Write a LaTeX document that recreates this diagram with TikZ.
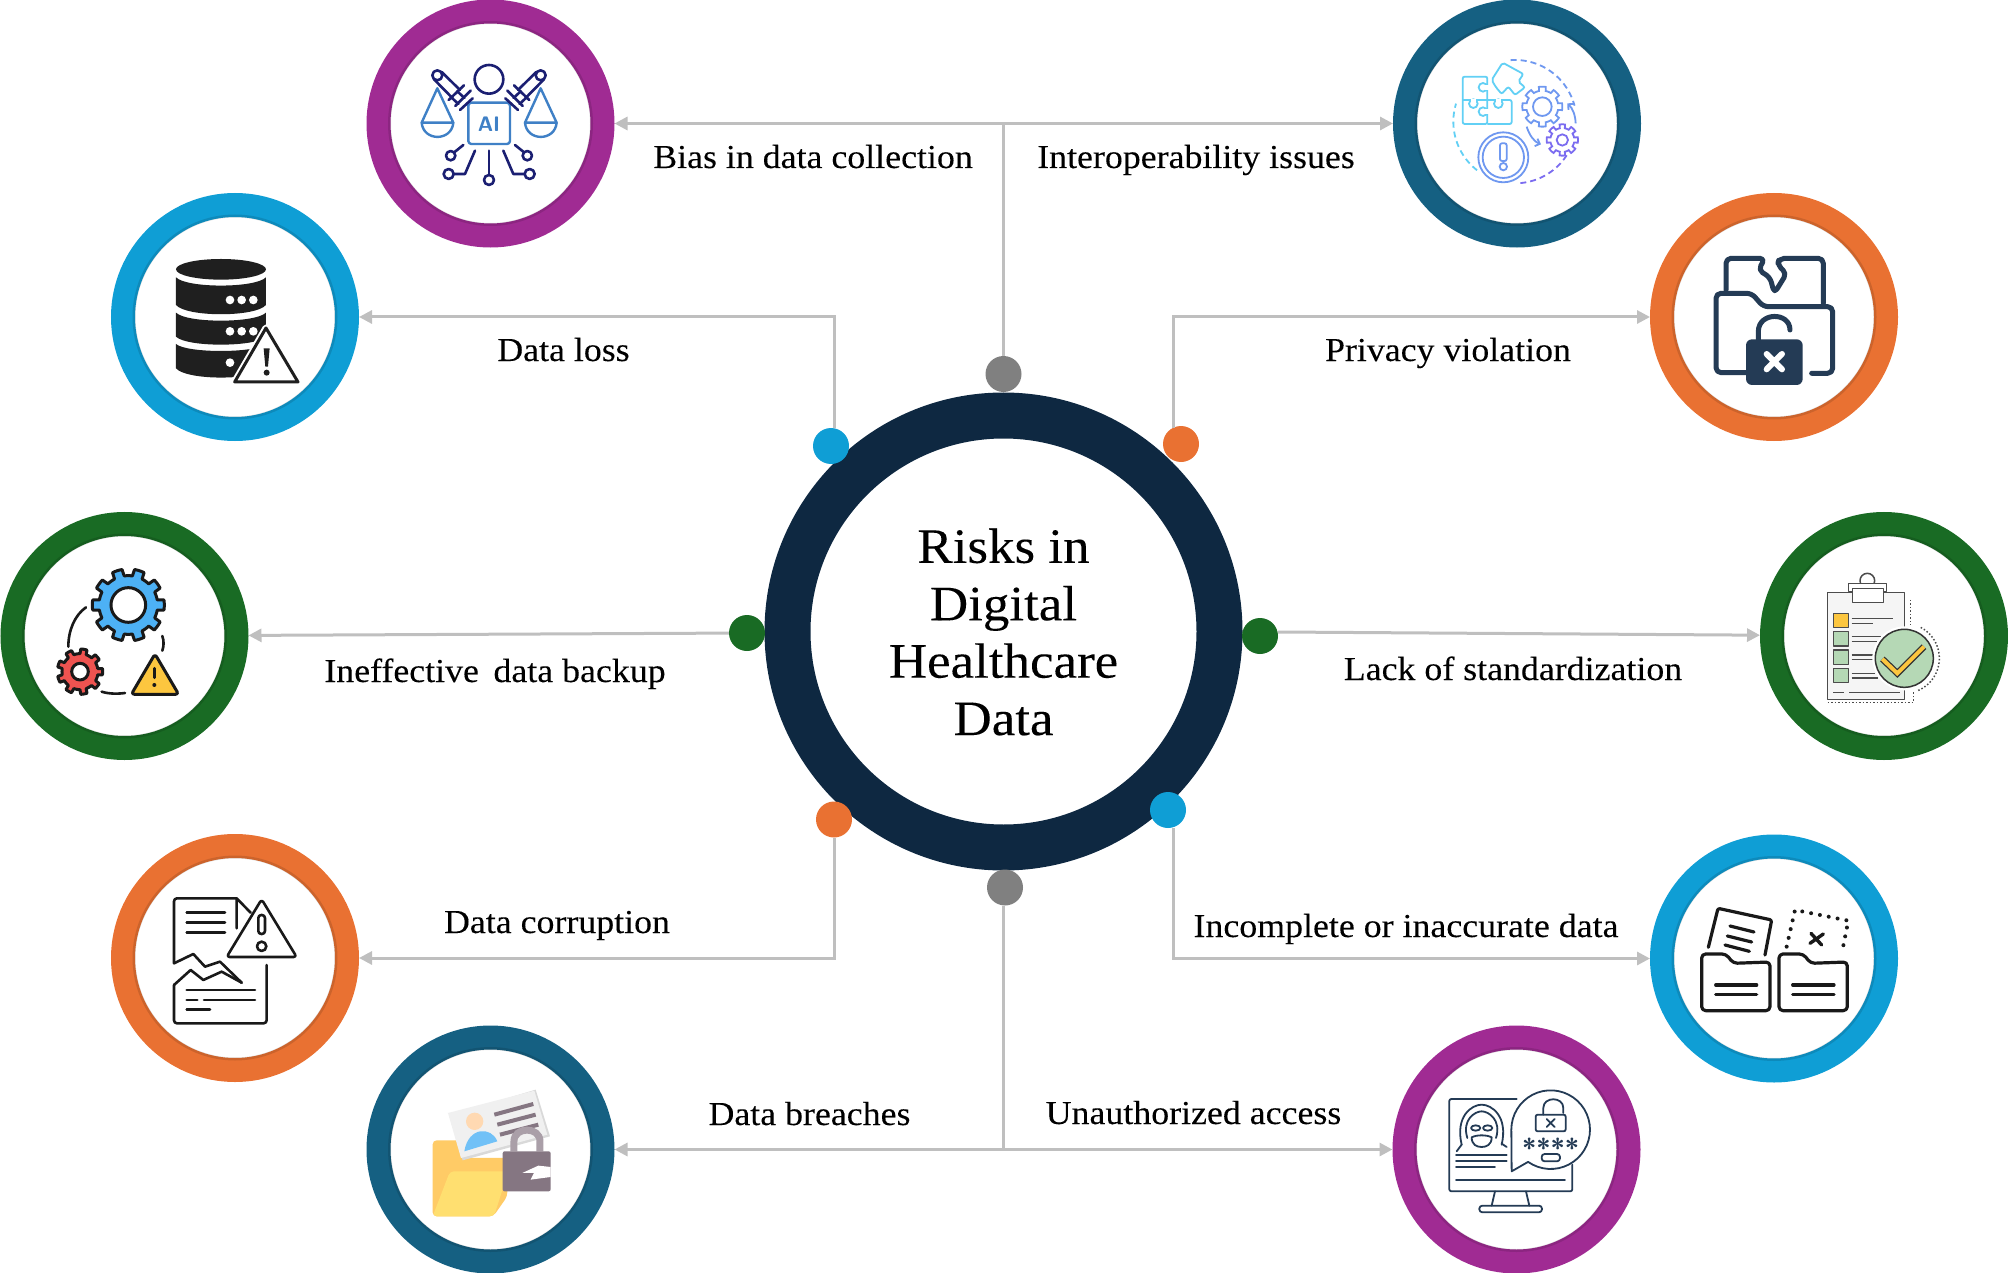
\documentclass[tikz,border=0pt]{standalone}
\usepackage{fontspec}
\setmainfont[FakeStretch=1.07, FakeBold=0.12]{Liberation Serif}
\usetikzlibrary{arrows.meta}

\definecolor{hubnavy}{HTML}{0E2841}
\definecolor{ringpurple}{HTML}{A02B93}
\definecolor{ringteal}{HTML}{156082}
\definecolor{ringblue}{HTML}{0F9ED5}
\definecolor{ringorange}{HTML}{E97132}
\definecolor{ringgreen}{HTML}{196B24}
\definecolor{conngray}{HTML}{BFBFBF}
\definecolor{icnnavy}{HTML}{1B1F72}
\definecolor{icnblue}{HTML}{3F80C6}
\definecolor{icnslate}{HTML}{243B55}
\definecolor{icncyan}{HTML}{62D0F5}
\definecolor{icnperi}{HTML}{6F98F0}
\definecolor{icnviolet}{HTML}{7B6CF0}
\definecolor{icnyellow}{HTML}{FCC63F}
\definecolor{icnmint}{HTML}{B5D8B5}
\definecolor{icnmauve}{HTML}{857682}
\definecolor{icnsky}{HTML}{4DB1F5}
\definecolor{icnred}{HTML}{EF5350}
\definecolor{folderback}{HTML}{FFCB66}
\definecolor{folderfront}{HTML}{FFDF70}

\tikzset{
    ring/.style={circle, minimum size=224pt, line width=24pt, fill=white, inner sep=0pt},
    hubdot/.style={circle, minimum size=36pt, inner sep=0pt},
    conn/.style={draw=conngray, line width=3pt, -{Triangle[length=13pt, width=13pt]}},
    risklabel/.style={anchor=base, font=\fontsize{33.5}{38}\selectfont},
    iconzoom/.style={x=0.3333pt, y=-0.3333pt},
    navyline/.style={draw=icnnavy, line width=2.6pt, line cap=round, line join=round},
    blueline/.style={draw=icnblue, line width=2.4pt, line cap=round, line join=round},
    slateline/.style={draw=icnslate, line width=5pt, line cap=round, line join=round},
    inkline/.style={draw=black!90, line width=2.6pt, line cap=round, line join=round},
    thinline/.style={draw=black!70, line width=1.5pt, line join=round}
}

% ring with its soft shadow on the inner edge
\newcommand{\ringnode}[4]{
    \node[ring, draw=#4] (#1) at (#2, #3) {};
    \draw[black, opacity=0.12, line width=3pt] (#1.center) circle (101);
}
% outline of a gear: base radius, tip radius, number of teeth
\newcommand{\gearplot}[3]{plot[domain=0:360, samples=181] (\x:{#1+(#2-#1)*(cos(#3*\x)>0)})}
% piece of a circle: start angle, end angle, radius
\newcommand{\arcplot}[3]{plot[domain=#1:#2, samples=40] (\x:#3)}

\begin{document}
\begin{tikzpicture}[x=1pt, y=-1pt]
    \useasboundingbox (0, 0) rectangle (2008, 1273);

    % Rings round the hub
    \ringnode{ringBias}{490.5}{123.5}{ringpurple}
    \ringnode{ringInterop}{1517}{123.5}{ringteal}
    \ringnode{ringLoss}{235}{317}{ringblue}
    \ringnode{ringPrivacy}{1774}{317}{ringorange}
    \ringnode{ringBackup}{124.5}{636}{ringgreen}
    \ringnode{ringStandard}{1884}{636}{ringgreen}
    \ringnode{ringCorrupt}{235}{958}{ringorange}
    \ringnode{ringIncomplete}{1774}{958.5}{ringblue}
    \ringnode{ringBreach}{490.5}{1149.5}{ringteal}
    \ringnode{ringAccess}{1516.5}{1149.5}{ringpurple}

    % Hub
    \node[circle, minimum size=432pt, line width=46pt, draw=hubnavy, fill=white] (hub) at (1003.5, 631.5) {};
    \node[align=center, font=\fontsize{49.5}{57.4}\selectfont] (hubText) at (1003.5, 632) {Risks in\\Digital\\Healthcare\\Data};

    % Dots on the hub
    \node[hubdot, fill=black!50] (dotTop) at (1003.5, 374) {};
    \node[hubdot, fill=ringblue] (dotLoss) at (831, 446) {};
    \node[hubdot, fill=ringorange] (dotPrivacy) at (1181, 444) {};
    \node[hubdot, fill=ringgreen] (dotBackup) at (747, 633) {};
    \node[hubdot, fill=ringgreen] (dotStandard) at (1260, 636) {};
    \node[hubdot, fill=ringorange] (dotCorrupt) at (834, 819.5) {};
    \node[hubdot, fill=ringblue] (dotIncomplete) at (1168, 810) {};
    \node[hubdot, fill=black!50] (dotBottom) at (1005, 887.5) {};

    % Connectors
    \draw[conn] (dotTop.north) |- (ringBias);
    \draw[conn] (dotTop.north) |- (ringInterop);
    \draw[conn] ([xshift=3.7pt]dotLoss.north) |- (ringLoss);
    \draw[conn] ([xshift=-7.6pt, yshift=-2pt]dotPrivacy.north) |- (ringPrivacy);
    \draw[conn] (dotBackup) -- (ringBackup);
    \draw[conn] ([yshift=4pt]dotStandard.east) -- (ringStandard);
    \draw[conn] (dotCorrupt.south) |- (ringCorrupt);
    \draw[conn] ([xshift=5pt]dotIncomplete.south) |- (ringIncomplete);
    \draw[conn] ([xshift=-2pt]dotBottom.south) |- (ringBreach);
    \draw[conn] ([xshift=-2pt]dotBottom.south) |- (ringAccess);

    % Labels
    \node[risklabel] (txtBias) at (813, 168) {Bias in data collection};
    \node[risklabel] (txtInterop) at (1196, 168) {Interoperability issues};
    \node[risklabel] (txtLoss) at (563.5, 361) {Data loss};
    \node[risklabel] (txtPrivacy) at (1448, 361) {Privacy violation};
    \node[risklabel] (txtBackup) at (495, 682) {Ineffective\, data backup};
    \node[risklabel] (txtStandard) at (1513, 680) {Lack of standardization};
    \node[risklabel] (txtCorrupt) at (557, 933) {Data corruption};
    \node[risklabel] (txtIncomplete) at (1406, 937) {Incomplete or inaccurate data};
    \node[risklabel] (txtBreach) at (809.5, 1125) {Data breaches};
    \node[risklabel] (txtAccess) at (1193.5, 1124) {Unauthorized access};

    % Icon: scales, chip and syringes
    \begin{scope}[shift={(360, 0)}, iconzoom]
        \draw[navyline] (387, 238) circle (43);
        \draw[blueline, rounded corners=3pt] (325, 308) rectangle (450, 432);
        \node[font=\sffamily\bfseries\fontsize{21}{21}\selectfont, text=icnblue] (txtChip) at (387, 372) {AI};
        % pans
        \draw[blueline] (232, 265) -- (185, 368) -- (280, 368) -- cycle;
        \draw[blueline] (185, 368) .. controls (190, 425) and (275, 425) .. (280, 368);
        \draw[blueline] (542, 265) -- (495, 368) -- (590, 368) -- cycle;
        \draw[blueline] (495, 368) .. controls (500, 425) and (585, 425) .. (590, 368);
        % left syringe
        \draw[navyline, fill=white] (232, 226) circle (15);
        \draw[navyline] (222, 238) -- (278, 295) (245, 216) -- (300, 270);
        \draw[navyline] (266, 300) -- (312, 256) (286, 318) -- (332, 272);
        \draw[navyline] (274, 292) -- (295, 312) (292, 274) -- (313, 294);
        \draw[navyline] (300, 330) -- (338, 295);
        % right syringe
        \draw[navyline, fill=white] (542, 226) circle (15);
        \draw[navyline] (552, 238) -- (496, 295) (529, 216) -- (474, 270);
        \draw[navyline] (508, 300) -- (462, 256) (488, 318) -- (442, 272);
        \draw[navyline] (500, 292) -- (479, 312) (482, 274) -- (461, 294);
        \draw[navyline] (474, 330) -- (436, 295);
        % circuit
        \draw[navyline] (387, 452) -- (387, 525);
        \draw[navyline] (387, 540) circle (15);
        \draw[navyline] (345, 452) -- (315, 522) -- (281, 522);
        \draw[navyline] (266, 522) circle (15);
        \draw[navyline] (430, 452) -- (460, 522) -- (494, 522);
        \draw[navyline] (509, 522) circle (15);
        \draw[navyline] (310, 435) -- (284, 456);
        \draw[navyline] (272, 467) circle (14);
        \draw[navyline] (465, 435) -- (491, 456);
        \draw[navyline] (502, 467) circle (14);
    \end{scope}

    % Icon: puzzle, gears and warning
    \begin{scope}[shift={(1390, 0)}, iconzoom]
        \begin{scope}[shift={(375, 365)}, line width=1.8pt, dash pattern=on 6pt off 4pt]
            \draw[icnperi] \arcplot{266}{345}{185};
            \draw[icncyan] \arcplot{128}{197}{185};
            \draw[icnviolet] \arcplot{33}{85}{185};
        \end{scope}
        % puzzle
        \draw[icncyan, line width=1.8pt, rounded corners=2pt] (218, 230) rectangle (292, 372);
        \draw[icncyan, line width=1.8pt, rounded corners=2pt] (218, 300) -- (365, 300) -- (365, 372) -- (292, 372);
        \draw[icncyan, line width=1.8pt, fill=white] (279, 262) circle (13);
        \fill[white] (285, 254) rectangle (296, 270);
        \draw[icncyan, line width=1.8pt, fill=white] (279, 335) circle (13);
        \fill[white] (285, 327) rectangle (296, 343);
        \draw[icncyan, line width=1.8pt, fill=white] (250, 311) circle (13);
        \fill[white] (242, 296) rectangle (258, 305);
        \draw[icncyan, line width=1.8pt, fill=white] (325, 311) circle (13);
        \fill[white] (317, 296) rectangle (333, 305);
        \draw[icncyan, line width=1.8pt, fill=white, rounded corners=2pt] (338, 188) -- (400, 222) -- (385, 245) -- (405, 262) -- (375, 285) -- (355, 260) -- (335, 282) -- (318, 262) -- (305, 240) -- cycle;
        % gears
        \draw[icnperi, line width=1.8pt, shift={(457, 320)}] \gearplot{48}{60}{8} -- cycle;
        \draw[icnperi, line width=1.8pt] (457, 320) circle (28);
        \draw[icnviolet, line width=1.8pt, shift={(517, 420)}] \gearplot{36}{47}{8} -- cycle;
        \draw[icnviolet, line width=1.8pt] (517, 420) circle (17);
        \draw[icnperi, line width=1.8pt, -{Straight Barb[length=4pt]}] (410, 380) .. controls (418, 405) and (432, 425) .. (453, 433);
        \draw[icnperi, line width=1.8pt, -{Straight Barb[length=4pt]}] (557, 370) .. controls (556, 345) and (548, 325) .. (532, 310);
        % warning
        \draw[icnperi, line width=1.8pt] (340, 472) circle (75);
        \draw[icnperi, line width=1.8pt] (340, 472) circle (62);
        \draw[icnperi, line width=1.8pt, rounded corners=2pt] (330, 430) rectangle (350, 483);
        \draw[icnperi, line width=1.8pt] (340, 500) circle (11);
    \end{scope}

    % Icon: database with warning
    \begin{scope}[shift={(110, 190)}, iconzoom]
        \fill[black!88] (333, 238) ellipse (135 and 31);
        \fill[black!88] (198, 262) .. controls (230, 295) and (436, 295) .. (468, 262) -- (468, 345) .. controls (436, 382) and (230, 382) .. (198, 345) -- cycle;
        \fill[black!88] (198, 368) .. controls (230, 400) and (436, 400) .. (468, 368) -- (468, 440) .. controls (436, 472) and (230, 472) .. (198, 440) -- cycle;
        \fill[black!88] (198, 462) .. controls (230, 490) and (436, 490) .. (468, 462) -- (468, 535) .. controls (436, 572) and (230, 572) .. (198, 535) -- cycle;
        \fill[white] (360, 330) circle (13) (395, 330) circle (13) (430, 330) circle (13);
        \fill[white] (360, 424) circle (13) (395, 424) circle (13) (430, 424) circle (13);
        \fill[white] (360, 518) circle (13);
        \draw[white, line width=7pt, line join=round] (468, 414) -- (374, 576) -- (564, 576) -- cycle;
        \draw[black!88, fill=white, line width=3pt, line join=round] (468, 414) -- (374, 576) -- (564, 576) -- cycle;
        \fill[black!88] (461, 475) -- (479, 475) -- (474, 530) -- (466, 530) -- cycle;
        \fill[black!88] (470, 548) circle (9);
    \end{scope}

    % Icon: broken folder with open lock
    \begin{scope}[shift={(1650, 190)}, iconzoom]
        \draw[slateline, rounded corners=5pt] (228, 300) -- (228, 205) -- (345, 205) -- (325, 240) -- (360, 262) -- (373, 310) -- (410, 250) -- (382, 225) -- (388, 205) -- (520, 205) -- (520, 340);
        \draw[slateline, rounded corners=5pt] (290, 548) -- (198, 548) -- (198, 310) -- (305, 310) -- (340, 350) -- (548, 350) -- (548, 550) -- (485, 550);
        \draw[slateline] (325, 450) -- (325, 425) .. controls (325, 365) and (420, 365) .. (420, 420);
        \fill[icnslate, rounded corners=6pt] (288, 448) rectangle (458, 585);
        \draw[white, line width=6pt, line cap=round] (350, 492) -- (396, 538) (396, 492) -- (350, 538);
    \end{scope}

    % Icon: gears with warning
    \begin{scope}[shift={(0, 510)}, iconzoom]
        \draw[inkline, line width=3pt, fill=icnsky, shift={(385, 285)}] \gearplot{88}{108}{10} -- cycle;
        \draw[inkline, line width=3pt, fill=white] (385, 285) circle (52);
        \draw[inkline, line width=3pt, fill=icnred, shift={(240, 485)}] \gearplot{54}{68}{9} -- cycle;
        \draw[inkline, line width=3pt, fill=white] (240, 485) circle (25);
        \draw[inkline, line width=3pt, fill=icnyellow, rounded corners=3pt] (465, 432) -- (394, 553) -- (536, 553) -- cycle;
        \draw[inkline, line width=3pt] (463, 475) -- (463, 503);
        \fill[black!90] (463, 525) circle (6);
        \draw[inkline] (258, 292) .. controls (225, 315) and (205, 360) .. (205, 410);
        \draw[inkline] (487, 378) .. controls (492, 392) and (492, 408) .. (487, 422);
        \draw[inkline] (305, 545) .. controls (325, 552) and (355, 552) .. (375, 549);
    \end{scope}

    % Icon: checklist
    \begin{scope}[shift={(1750, 510)}, iconzoom]
        \draw[thinline, dotted] (482, 270) -- (482, 345);
        \draw[thinline, dotted] (233, 578) -- (490, 578) -- (490, 545);
        \draw[thinline, fill=white] (352, 212) circle (22);
        \draw[thinline, fill=black!4] (233, 248) rectangle (463, 568);
        \draw[thinline, fill=white] (295, 220) rectangle (410, 245);
        \draw[thinline, fill=white] (308, 235) rectangle (400, 278);
        \draw[thinline, fill=icnyellow] (250, 310) rectangle (295, 352);
        \draw[thinline, fill=icnmint] (250, 365) rectangle (295, 408);
        \draw[thinline, fill=icnmint] (250, 420) rectangle (295, 463);
        \draw[thinline, fill=icnmint] (250, 475) rectangle (295, 518);
        \draw[thinline] (305, 325) -- (430, 325) (305, 340) -- (368, 340);
        \draw[thinline] (305, 380) -- (400, 380) (305, 395) -- (380, 395);
        \draw[thinline] (305, 435) -- (370, 435) (305, 449) -- (370, 449);
        \draw[thinline] (305, 490) -- (375, 490) (305, 504) -- (385, 504);
        \draw[thinline] (250, 548) -- (282, 548) (297, 548) -- (450, 548);
        \begin{scope}[shift={(463, 445)}]
            \draw[thinline, dotted] \arcplot{-62}{68}{105};
        \end{scope}
        \draw[thinline, draw=black!80, fill=icnmint, preaction={draw=white, line width=6pt}] (463, 445) circle (87);
        \draw[black!80, line width=6.5pt, line join=miter] (397, 447) -- (442, 490) -- (522, 410);
        \draw[icnyellow, line width=4pt, line join=miter] (397, 447) -- (442, 490) -- (522, 410);
    \end{scope}

    % Icon: torn document with warning
    \begin{scope}[shift={(110, 830)}, iconzoom]
        \draw[inkline, rounded corners=3pt] (192, 400) -- (192, 205) -- (380, 205);
        \draw[inkline] (380, 205) -- (422, 248) (380, 205) -- (380, 295);
        \draw[inkline] (192, 400) -- (250, 372) -- (285, 410) -- (330, 395) -- (395, 458);
        \draw[inkline] (192, 465) -- (242, 420) -- (280, 450) -- (335, 425) -- (395, 458);
        \draw[inkline, rounded corners=3pt] (192, 465) -- (192, 580) -- (470, 580) -- (470, 405);
        \draw[inkline] (230, 248) -- (345, 248) (230, 278) -- (345, 278) (230, 308) -- (345, 308);
        \draw[inkline] (230, 480) -- (435, 480) (230, 510) -- (262, 510) (282, 510) -- (435, 510) (230, 538) -- (300, 538);
        \draw[inkline, fill=white, rounded corners=3pt] (455, 208) -- (350, 381) -- (560, 381) -- cycle;
        \draw[inkline, rounded corners=3pt] (445, 255) rectangle (465, 312);
        \draw[inkline] (455, 349) circle (14);
    \end{scope}

    % Icon: two folders
    \begin{scope}[shift={(1650, 830)}, iconzoom]
        \draw[inkline, line width=3.2pt, rounded corners=2pt] (175, 352) -- (204, 235) -- (365, 270) -- (345, 375);
        \draw[inkline, line width=3.2pt] (240, 288) -- (312, 306) (232, 318) -- (305, 336) (225, 345) -- (298, 364);
        \draw[inkline, line width=3.2pt, fill=white, rounded corners=4pt] (155, 372) -- (228, 372) -- (250, 400) -- (360, 396) -- (360, 542) -- (155, 542) -- cycle;
        \draw[inkline, line width=3.2pt] (197, 465) -- (320, 465) (197, 493) -- (320, 493);
        \draw[black!90, line width=4pt, line cap=round, dash pattern=on 0pt off 9pt] (410, 350) -- (435, 240) -- (595, 272) -- (575, 372);
        \draw[inkline, line width=3.4pt] (480, 340) -- (520, 312) (483, 310) -- (515, 345);
        \draw[inkline, line width=3.2pt, fill=white, rounded corners=4pt] (387, 372) -- (460, 372) -- (482, 400) -- (592, 396) -- (592, 542) -- (387, 542) -- cycle;
        \draw[inkline, line width=3.2pt] (428, 465) -- (552, 465) (428, 493) -- (552, 493);
    \end{scope}

    % Icon: folder, card and broken lock
    \begin{scope}[shift={(360, 1023)}, iconzoom]
        \fill[folderback, rounded corners=4pt] (218, 352) -- (300, 352) -- (300, 405) -- (442, 405) -- (442, 520) -- (400, 580) -- (218, 580) -- cycle;
        \fill[black!15] (268, 278) -- (527, 200) -- (570, 340) -- (308, 412) -- cycle;
        \fill[black!6] (264, 270) -- (523, 203) -- (562, 335) -- (303, 405) -- cycle;
        \fill[orange!30!white] (344, 295) circle (26);
        \fill[icnsky!80] (313, 385) .. controls (325, 310) and (395, 310) .. (412, 355) -- cycle;
        \draw[icnmauve, line width=4pt] (403, 275) -- (520, 243) (412, 305) -- (527, 275) (420, 335) -- (535, 305);
        \fill[folderfront, rounded corners=4pt] (270, 445) -- (445, 445) -- (402, 580) -- (218, 580) -- cycle;
        \draw[icnmauve!70, line width=7pt] (462, 385) -- (462, 355) .. controls (462, 310) and (540, 310) .. (540, 355) -- (540, 385);
        \fill[icnmauve, rounded corners=2pt] (428, 385) rectangle (572, 505);
        \fill[white] (572, 432) -- (535, 428) -- (487, 450) -- (522, 450) -- (512, 470) -- (572, 462) -- cycle;
    \end{scope}

    % Icon: hacker on a monitor
    \begin{scope}[shift={(1390, 1023)}, iconzoom]
        \draw[navyline, draw=icnslate, line width=1.8pt, rounded corners=2pt] (380, 228) -- (178, 228) -- (178, 505) -- (547, 505) -- (547, 425);
        \draw[navyline, draw=icnslate, line width=1.8pt] (198, 470) -- (525, 470);
        \draw[navyline, draw=icnslate, line width=1.8pt] (315, 505) -- (305, 548) (408, 505) -- (418, 548);
        \draw[navyline, draw=icnslate, line width=1.8pt, rounded corners=3pt] (268, 548) rectangle (456, 568);
        % hood
        \draw[navyline, draw=icnslate, line width=1.8pt] (215, 365) .. controls (195, 280) and (245, 245) .. (275, 245) .. controls (305, 245) and (355, 280) .. (335, 365);
        \draw[navyline, draw=icnslate, line width=1.8pt] (232, 345) .. controls (215, 290) and (255, 265) .. (275, 265) .. controls (295, 265) and (335, 290) .. (318, 345);
        \draw[navyline, draw=icnslate, line width=1.8pt] (200, 385) -- (215, 365) (350, 372) -- (335, 362);
        \draw[navyline, draw=icnslate, line width=1.8pt] (245, 343) .. controls (260, 335) and (290, 335) .. (305, 343) .. controls (305, 365) and (290, 372) .. (275, 372) .. controls (260, 372) and (245, 365) .. (245, 343);
        \draw[navyline, draw=icnslate, line width=1.8pt] (257, 315) ellipse (14 and 8);
        \draw[navyline, draw=icnslate, line width=1.8pt] (293, 315) ellipse (14 and 8);
        \draw[navyline, draw=icnslate, line width=1.8pt] (198, 397) -- (350, 397) (198, 415) -- (350, 415) (198, 433) -- (315, 433);
        % speech bubble
        \draw[navyline, draw=icnslate, line width=1.8pt, fill=white, shift={(482, 320)}] (-117, 125) -- plot[domain=180:485, samples=40] (\x:118) -- cycle;
        \draw[navyline, draw=icnslate, line width=1.8pt, rounded corners=2pt] (437, 275) rectangle (527, 325);
        \draw[navyline, draw=icnslate, line width=1.8pt] (460, 275) -- (460, 255) .. controls (460, 220) and (520, 220) .. (520, 255) -- (520, 270);
        \draw[navyline, draw=icnslate, line width=1.8pt] (470, 288) -- (494, 312) (494, 288) -- (470, 312);
        \node[font=\sffamily\bfseries\fontsize{26}{26}\selectfont, text=icnslate] (txtPin) at (482, 375) {****};
        \draw[navyline, draw=icnslate, line width=1.8pt, rounded corners=3pt] (455, 393) rectangle (510, 415);
    \end{scope}
\end{tikzpicture}
\end{document}
